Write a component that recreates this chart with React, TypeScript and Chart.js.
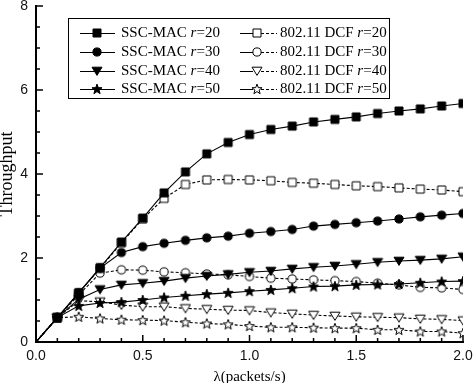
import React, { useEffect, useRef } from 'react';
import { Chart, registerables } from 'chart.js';

Chart.register(...registerables);

// ---- data ----
const lambdaValues = [0, 0.1, 0.2, 0.3, 0.4, 0.5, 0.6, 0.7, 0.8, 0.9, 1.0, 1.1, 1.2, 1.3, 1.4, 1.5, 1.6, 1.7, 1.8, 1.9, 2.0];

const sscR20 = [0, 0.58, 1.17, 1.77, 2.38, 2.95, 3.55, 4.05, 4.48, 4.75, 4.94, 5.06, 5.14, 5.24, 5.30, 5.36, 5.44, 5.50, 5.55, 5.62, 5.68];
const sscR30 = [0, 0.58, 1.17, 1.76, 2.13, 2.27, 2.35, 2.42, 2.48, 2.52, 2.59, 2.63, 2.68, 2.76, 2.80, 2.84, 2.88, 2.93, 2.98, 3.02, 3.06];
const sscR40 = [0, 0.58, 1.02, 1.25, 1.36, 1.40, 1.45, 1.52, 1.57, 1.61, 1.66, 1.69, 1.74, 1.78, 1.81, 1.85, 1.90, 1.93, 1.95, 1.98, 2.03];
const sscR50 = [0, 0.58, 0.86, 0.93, 0.95, 1.00, 1.06, 1.10, 1.14, 1.17, 1.21, 1.24, 1.28, 1.32, 1.33, 1.36, 1.37, 1.38, 1.41, 1.44, 1.45];

const dcfR20 = [0, 0.58, 1.17, 1.75, 2.36, 2.93, 3.42, 3.75, 3.86, 3.87, 3.86, 3.84, 3.80, 3.78, 3.75, 3.72, 3.70, 3.67, 3.64, 3.62, 3.58];
const dcfR30 = [0, 0.58, 1.12, 1.64, 1.72, 1.71, 1.67, 1.65, 1.62, 1.60, 1.56, 1.52, 1.50, 1.48, 1.46, 1.44, 1.40, 1.36, 1.30, 1.29, 1.25];
const dcfR40 = [0, 0.58, 0.98, 0.96, 0.88, 0.84, 0.84, 0.80, 0.78, 0.76, 0.75, 0.70, 0.67, 0.64, 0.62, 0.60, 0.59, 0.58, 0.55, 0.54, 0.51];
const dcfR50 = [0, 0.58, 0.60, 0.56, 0.53, 0.52, 0.51, 0.47, 0.44, 0.42, 0.38, 0.35, 0.35, 0.34, 0.33, 0.33, 0.29, 0.29, 0.25, 0.25, 0.21];

const seriesPrefixes = ['SSC-MAC', 'SSC-MAC', 'SSC-MAC', 'SSC-MAC', '802.11 DCF', '802.11 DCF', '802.11 DCF', '802.11 DCF'];
const seriesR = ['20', '30', '40', '50', '20', '30', '40', '50'];
const seriesValues = [sscR20, sscR30, sscR40, sscR50, dcfR20, dcfR30, dcfR40, dcfR50];
const seriesShapes = ['square', 'circle', 'triangle', 'star', 'square', 'circle', 'triangle', 'star'];
const seriesFilled = [true, true, true, true, false, false, false, false];

const xTickValues = [0, 0.5, 1.0, 1.5, 2.0];
const xTickLabels = ['0.0', '0.5', '1.0', '1.5', '2.0'];
const yTickValues = [0, 2, 4, 6, 8];
const yTickLabels = ['0', '2', '4', '6', '8'];

const xTitle = 'λ(packets/s)';
const yTitle = 'Throughput';

// ---- marker images ----
function makeMarker(shape: string, filled: boolean): HTMLCanvasElement {
  const c = document.createElement('canvas');
  c.width = 12;
  c.height = 12;
  const g = c.getContext('2d')!;
  g.beginPath();
  if (shape === 'square') {
    g.rect(2, 2, 8, 8);
  } else if (shape === 'circle') {
    g.arc(6, 6, 4.1, 0, Math.PI * 2);
  } else if (shape === 'triangle') {
    g.moveTo(1, 2.2);
    g.lineTo(11, 2.2);
    g.lineTo(6, 10.4);
    g.closePath();
  } else {
    const cx = 6, cy = 6.4, ro = 5.3, ri = 2.2;
    for (let k = 0; k < 10; k++) {
      const r = k % 2 === 0 ? ro : ri;
      const a = -Math.PI / 2 + (k * Math.PI) / 5;
      const px = cx + r * Math.cos(a);
      const py = cy + r * Math.sin(a);
      if (k === 0) g.moveTo(px, py);
      else g.lineTo(px, py);
    }
    g.closePath();
  }
  g.fillStyle = filled ? '#000' : '#fff';
  g.fill();
  g.lineWidth = 1;
  g.strokeStyle = '#000';
  g.stroke();
  return c;
}

export default function App() {
  const canvasRef = useRef<HTMLCanvasElement | null>(null);

  useEffect(() => {
    if (!canvasRef.current) return;
    const markers = seriesShapes.map((s, i) => makeMarker(s, seriesFilled[i]));

    const datasets = seriesValues.map((vals, i) => ({
      label: `${seriesPrefixes[i]} r=${seriesR[i]}`,
      data: vals.map((y, j) => ({ x: lambdaValues[j], y })),
      borderColor: '#000',
      backgroundColor: '#000',
      borderWidth: 1.1,
      borderDash: seriesFilled[i] ? [] : [3, 2],
      pointStyle: markers[i] as any,
      pointRadius: (ctx: any) => (ctx.dataIndex === 0 ? 0 : 4),
      pointHoverRadius: (ctx: any) => (ctx.dataIndex === 0 ? 0 : 4),
      tension: 0,
      fill: false,
      clip: 0,
    }));

    const axisTicks = {
      id: 'axisTicks',
      afterDraw(chart: any) {
        const { ctx, chartArea, scales } = chart;
        ctx.save();
        ctx.strokeStyle = '#000';
        ctx.lineWidth = 1.5;
        for (let i = 0; i <= 20; i++) {
          const px = scales.x.getPixelForValue(i / 10);
          const len = i % 5 === 0 ? 7 : 4;
          ctx.beginPath();
          ctx.moveTo(px, chartArea.bottom);
          ctx.lineTo(px, chartArea.bottom - len);
          ctx.stroke();
        }
        for (let i = 0; i <= 16; i++) {
          const py = scales.y.getPixelForValue(i / 2);
          const len = i % 4 === 0 ? 7 : 4;
          ctx.beginPath();
          ctx.moveTo(chartArea.left, py);
          ctx.lineTo(chartArea.left + len, py);
          ctx.stroke();
        }
        ctx.restore();
      },
    };

    const customLegend = {
      id: 'customLegend',
      afterDraw(chart: any) {
        const ctx = chart.ctx as CanvasRenderingContext2D;
        ctx.save();
        ctx.fillStyle = '#fff';
        ctx.fillRect(68.5, 18.5, 321, 80);
        ctx.strokeStyle = '#000';
        ctx.lineWidth = 1;
        ctx.strokeRect(68.5, 18.5, 321, 80);
        ctx.textBaseline = 'middle';
        ctx.fillStyle = '#000';
        for (let i = 0; i < 8; i++) {
          const col = i < 4 ? 0 : 1;
          const row = i % 4;
          const y = Math.round(33 + row * 18.8) + 0.5;
          ctx.setLineDash([]);
          ctx.lineWidth = 1;
          ctx.beginPath();
          let mx: number, tx: number;
          if (col === 0) {
            ctx.moveTo(80, y);
            ctx.lineTo(115, y);
            ctx.stroke();
            mx = 97;
            tx = 121;
          } else {
            ctx.moveTo(240, y);
            ctx.lineTo(253, y);
            ctx.stroke();
            ctx.setLineDash([3, 2]);
            ctx.beginPath();
            ctx.moveTo(261, y);
            ctx.lineTo(277, y);
            ctx.stroke();
            ctx.setLineDash([]);
            mx = 257;
            tx = 280;
          }
          const m = markers[i];
          ctx.drawImage(m, Math.round(mx - m.width / 2), Math.round(y - 0.5 - m.height / 2));
          ctx.font = '15px "Liberation Serif"';
          const pre = seriesPrefixes[i] + ' ';
          ctx.fillText(pre, tx, y);
          let cx = tx + ctx.measureText(pre).width;
          ctx.font = 'italic 15px "Liberation Serif"';
          ctx.fillText('r', cx, y);
          cx += ctx.measureText('r').width;
          ctx.font = '15px "Liberation Serif"';
          ctx.fillText('=' + seriesR[i], cx, y);
        }
        ctx.restore();
      },
    };

    const findLabel = (v: number, vals: number[], labels: string[]) => {
      for (let i = 0; i < vals.length; i++) if (Math.abs(vals[i] - v) < 1e-6) return labels[i];
      return '';
    };

    const chart = new Chart(canvasRef.current, {
      type: 'line',
      data: { datasets: datasets as any },
      options: {
        responsive: false,
        animation: false,
        devicePixelRatio: 1,
        layout: { padding: { top: 6, right: 11, left: 0, bottom: 0 } },
        plugins: { legend: { display: false }, tooltip: { enabled: false } },
        events: [],
        scales: {
          x: {
            type: 'linear',
            min: 0,
            max: 2,
            afterFit: (s: any) => {
              s.height = 41;
              s.paddingLeft = 0;
              s.paddingRight = 0;
              s.paddingTop = 0;
              s.paddingBottom = 0;
            },
            grid: { display: false, drawTicks: false },
            border: { display: true, color: '#000', width: 2 },
            ticks: {
              stepSize: 0.5,
              padding: 6,
              autoSkip: false,
              maxRotation: 0,
              color: '#111',
              font: { family: '"Liberation Sans"', size: 14 },
              callback: (v: any) => findLabel(Number(v), xTickValues, xTickLabels),
            },
            title: {
              display: true,
              text: xTitle,
              color: '#000',
              padding: 0,
              font: { family: '"Liberation Serif"', size: 15, lineHeight: 0.85 },
            },
          },
          y: {
            type: 'linear',
            min: 0,
            max: 8,
            afterFit: (s: any) => {
              s.width = 36;
              s.paddingLeft = 0;
              s.paddingRight = 0;
              s.paddingTop = 0;
              s.paddingBottom = 0;
            },
            grid: { display: false, drawTicks: false },
            border: { display: true, color: '#000', width: 2 },
            ticks: {
              stepSize: 2,
              padding: 8,
              autoSkip: false,
              color: '#111',
              font: { family: '"Liberation Sans"', size: 14 },
              callback: (v: any) => findLabel(Number(v), yTickValues, yTickLabels),
            },
            title: {
              display: true,
              text: yTitle,
              color: '#000',
              padding: 0,
              font: { family: '"Liberation Serif"', size: 18, lineHeight: 0.8 },
            },
          },
        },
      },
      plugins: [axisTicks, customLegend],
    });

    return () => chart.destroy();
  }, []);

  return (
    <div style={{ position: 'fixed', left: 0, top: 0, width: 474, height: 383, background: '#fff' }}>
      <canvas ref={canvasRef} width={474} height={383} style={{ display: 'block' }} />
    </div>
  );
}
